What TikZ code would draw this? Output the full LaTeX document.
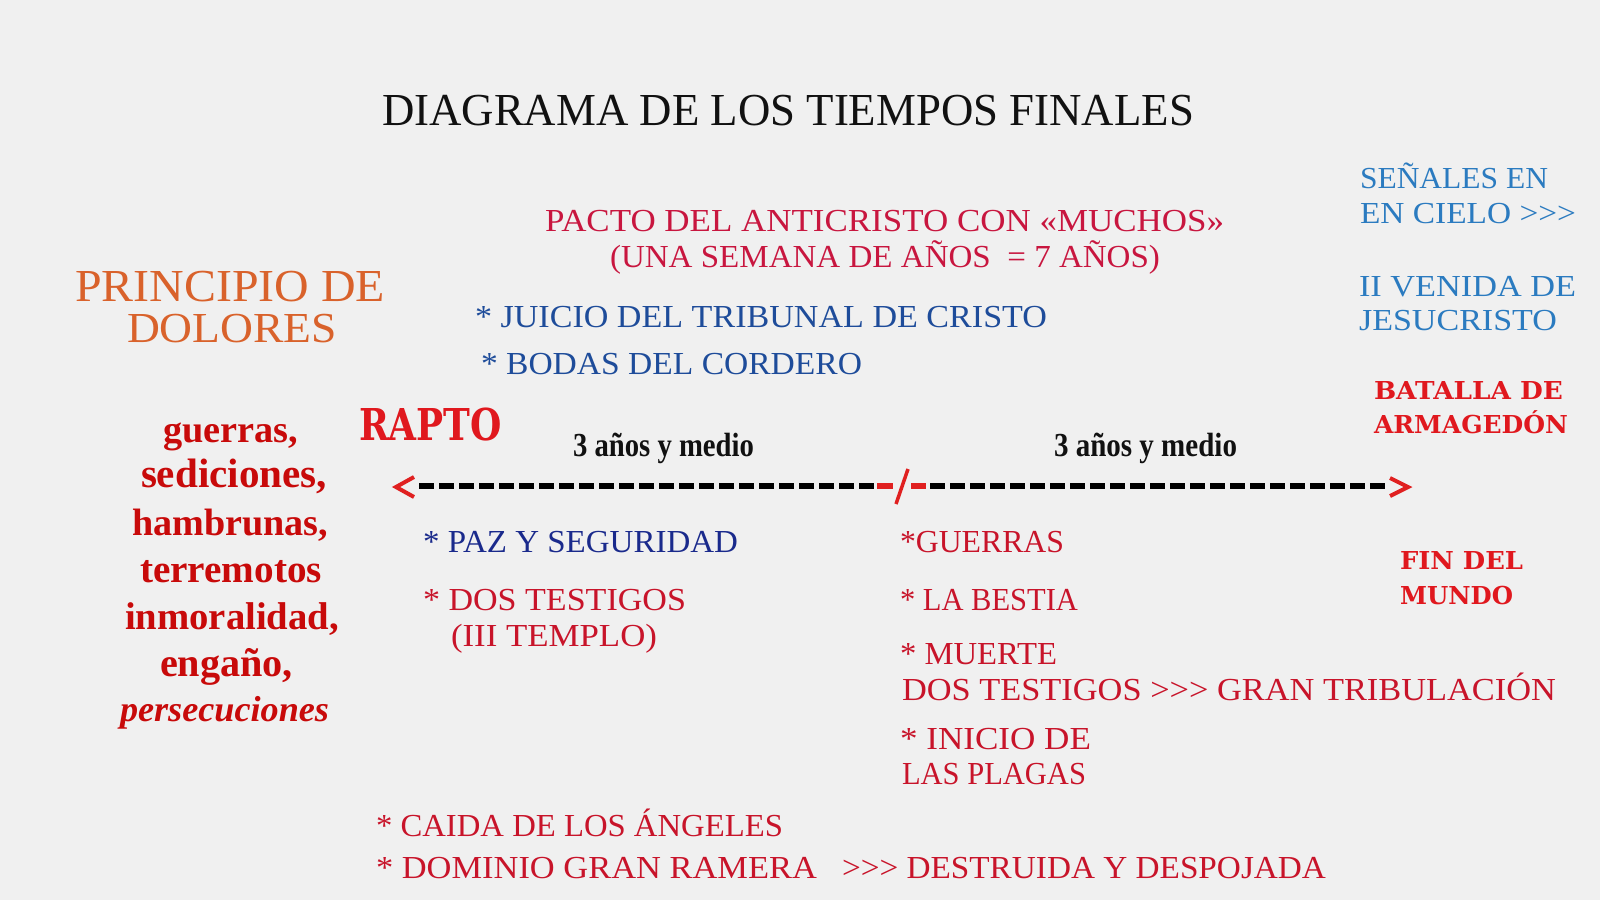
\documentclass[tikz,border=0pt]{standalone}
\usepackage{fontspec}
\usepackage{graphicx}
\setmainfont{Liberation Serif}
\newfontfamily\stencilfont{DejaVu Serif}
\newcommand{\capfit}[3]{\resizebox{#1pt}{#2pt}{\raisebox{0pt}[\fontcharht\font`X][0pt]{#3}}}
\newcommand{\wfit}[2]{\resizebox{#1pt}{!}{#2}}
\newcommand{\gtgtgt}{>{}>{}>}
\definecolor{bgcol}{HTML}{F0F0F0}
\definecolor{titlecol}{HTML}{111111}
\definecolor{pactocol}{HTML}{C8163F}
\definecolor{juiciocol}{HTML}{1E4C9A}
\definecolor{skycol}{HTML}{2B7BC0}
\definecolor{navycol}{HTML}{1A2A8C}
\definecolor{itemred}{HTML}{C8142A}
\definecolor{stencilred}{HTML}{E0181E}
\definecolor{orangecol}{HTML}{D9622B}
\definecolor{listred}{HTML}{C80A0A}
\definecolor{arrowred}{HTML}{E02020}
\begin{document}
\begin{tikzpicture}[x=1pt,y=-1pt,
  txt/.style={anchor=base west,inner sep=0pt,outer sep=0pt,font=\fontsize{30}{36}\selectfont},
  caps/.style={txt},
  stencil/.style={txt,font=\fontsize{30}{36}\selectfont\stencilfont\bfseries,text=stencilred},
  listline/.style={txt,font=\fontsize{38}{44}\selectfont\bfseries,text=listred},
  years/.style={txt,font=\fontsize{30}{36}\selectfont\bfseries,text=titlecol},
  blackdash/.style={draw=black,line width=6pt,dash pattern=on 15pt off 5pt},
  reddash/.style={draw=arrowred,line width=6pt},
  redmark/.style={draw=arrowred,line width=4pt,line join=miter}]
\fill[bgcol] (0,0) rectangle (1600,900);
\useasboundingbox (0,0) rectangle (1600,900);

% title
\node[caps,text=titlecol] (title) at (382,125) {\capfit{812}{30}{DIAGRAMA DE LOS TIEMPOS FINALES}};

% pacto
\node[caps,text=pactocol] (pacto1) at (545,231) {\capfit{679}{21}{PACTO DEL ANTICRISTO CON «MUCHOS»}};
\node[caps,text=pactocol] (pacto2) at (610,267) {\capfit{550}{21}{(UNA SEMANA DE AÑOS \ = 7 AÑOS)}};

\node[caps,text=juiciocol] (juicio) at (475,327) {\capfit{572}{21}{* JUICIO DEL TRIBUNAL DE CRISTO}};
\node[caps,text=juiciocol] (bodas) at (481,374) {\capfit{381}{21}{* BODAS DEL CORDERO}};

% right column
\node[caps,text=skycol] (sen1) at (1360,188) {\capfit{188}{20}{SEÑALES EN}};
\node[caps,text=skycol] (sen2) at (1360,223) {\capfit{216}{20}{EN CIELO \gtgtgt}};
\node[caps,text=skycol] (ven1) at (1359,296) {\capfit{217}{20}{II VENIDA DE}};
\node[caps,text=skycol] (ven2) at (1359,330) {\capfit{198}{20}{JESUCRISTO}};
\node[stencil] (bat1) at (1374,399) {\capfit{189}{18}{BATALLA DE}};
\node[stencil] (bat2) at (1374,433) {\capfit{194}{18}{ARMAGEDÓN}};
\node[stencil] (fin1) at (1400,569) {\capfit{123}{18}{FIN DEL}};
\node[stencil] (fin2) at (1400,604) {\capfit{113}{18}{MUNDO}};

% left column
\node[caps,text=orangecol] (prin1) at (75,301) {\capfit{310}{30}{PRINCIPIO DE}};
\node[caps,text=orangecol] (prin2) at (127,342) {\capfit{210}{28}{DOLORES}};
\node[listline] (l1) at (163,442) {\wfit{135}{guerras,}};
\node[listline] (l2) at (141,487) {\wfit{186}{sediciones,}};
\node[listline] (l3) at (132,535) {\wfit{196}{hambrunas,}};
\node[listline] (l4) at (140,582) {\wfit{182}{terremotos}};
\node[listline] (l5) at (125,629) {\wfit{214}{inmoralidad,}};
\node[listline] (l6) at (160,676) {\wfit{133}{engaño,}};
\node[listline] (l7) at (120,721) {\wfit{209}{\itshape persecuciones}};

% rapto and timeline
\node[stencil] (rapto) at (359,440) {\capfit{143}{32}{RAPTO}};
\node[years] (yl) at (573,456) {\capfit{181}{22}{3 años y medio}};
\node[years] (yr) at (1054,456) {\capfit{183}{22}{3 años y medio}};

\coordinate (ls) at (419,486);
\coordinate (lm) at (874,486);
\coordinate (r1a) at (877,486);
\coordinate (r1b) at (893,486);
\coordinate (r2a) at (911,486);
\coordinate (r2b) at (926,486);
\coordinate (rm) at (930,486);
\coordinate (re) at (1386,486);
\coordinate (slt) at (908,469);
\coordinate (slb) at (896,504);
\draw[blackdash] (ls) -- (lm);
\draw[blackdash] (rm) -- (re);
\draw[reddash] (r1a) -- (r1b);
\draw[reddash] (r2a) -- (r2b);
\draw[draw=arrowred,line width=3.5pt] (slt) -- (slb);
\coordinate (lt1) at (414,477);
\coordinate (ltip) at (396,487);
\coordinate (lt2) at (414,497);
\draw[redmark] (lt1) -- (ltip) -- (lt2);
\coordinate (rt1) at (1390,478);
\coordinate (rtip) at (1408,487);
\coordinate (rt2) at (1390,496);
\draw[redmark] (rt1) -- (rtip) -- (rt2);

% below timeline, left half
\node[caps,text=navycol] (paz) at (423,552) {\capfit{315}{21}{* PAZ Y SEGURIDAD}};
\node[caps,text=itemred] (dos1) at (423,610) {\capfit{263}{21}{* DOS TESTIGOS}};
\node[caps,text=itemred] (dos2) at (451,646) {\capfit{206}{21}{(III TEMPLO)}};

% below timeline, right half
\node[caps,text=itemred] (gue) at (900,552) {\capfit{164}{21}{*GUERRAS}};
\node[caps,text=itemred] (bes) at (900,610) {\capfit{178}{21}{* LA BESTIA}};
\node[caps,text=itemred] (mue1) at (900,664) {\capfit{157}{21}{* MUERTE}};
\node[caps,text=itemred] (mue2) at (902,700) {\capfit{654}{21}{DOS TESTIGOS \gtgtgt\ GRAN TRIBULACIÓN}};
\node[caps,text=itemred] (ini1) at (900,749) {\capfit{191}{21}{* INICIO DE}};
\node[caps,text=itemred] (ini2) at (902,784) {\capfit{184}{21}{LAS PLAGAS}};

% bottom
\node[caps,text=itemred] (cai) at (376,836) {\capfit{407}{21}{* CAIDA DE LOS ÁNGELES}};
\node[caps,text=itemred] (dom) at (376,878) {\capfit{441}{21}{* DOMINIO GRAN RAMERA}};
\node[caps,text=itemred] (des) at (842,878) {\capfit{484}{21}{\gtgtgt\ DESTRUIDA Y DESPOJADA}};
\end{tikzpicture}
\end{document}
